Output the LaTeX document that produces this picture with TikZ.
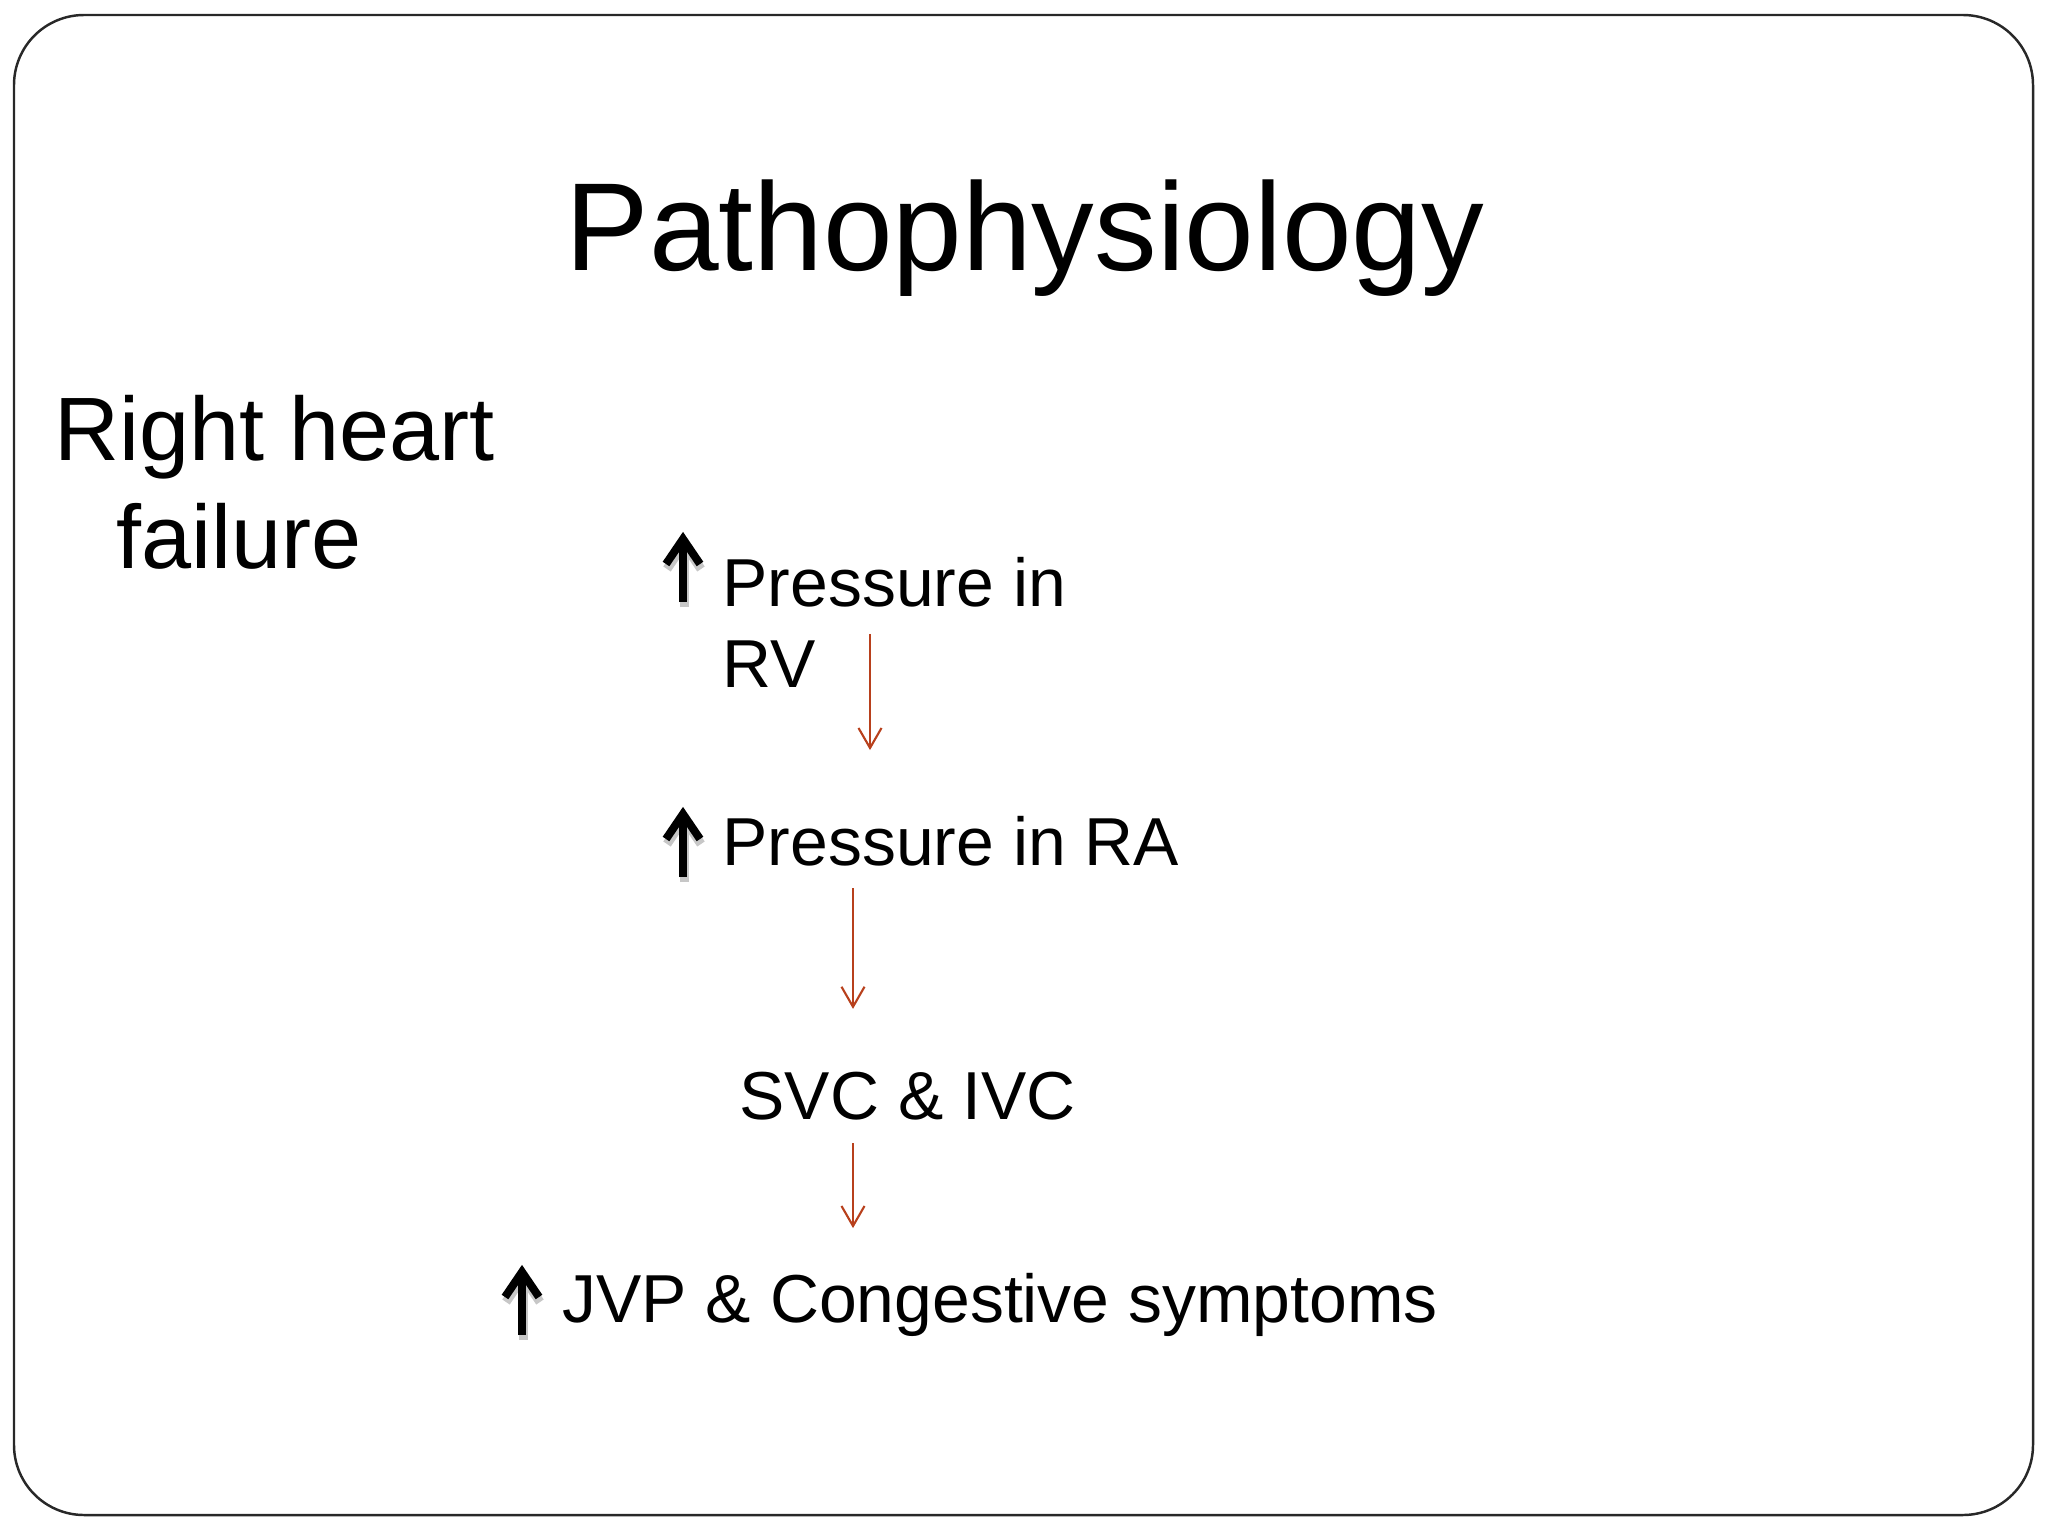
\documentclass[tikz,border=0pt]{standalone}
\usepackage{fontspec}
\setmainfont{Liberation Sans}
\usetikzlibrary{arrows.meta,calc}

\definecolor{flowred}{RGB}{184,64,28}
\definecolor{framegray}{RGB}{40,40,40}

\tikzset{
  txt/.style={anchor=base west, inner sep=0pt, align=left},
  body/.style={txt, font=\fontsize{19.3}{23}\selectfont},
  flow/.style={draw=flowred, line width=0.6pt, -{Straight Barb[length=0.2cm,width=0.23cm]}},
  rise/.pic={
    \begin{scope}[shift={(1,5)}, draw=black!22, line width=0.09cm]
      \draw (0,0) -- (0,-60);
      \draw[line join=miter] (-17,-38) -- (0,-63) -- (17,-38);
    \end{scope}
    \draw[line width=0.08cm] (0,0) -- (0,-60);
    \draw[line width=0.08cm, line join=miter] (-17,-38) -- (0,-63) -- (17,-38);
  }
}

\begin{document}
\begin{tikzpicture}[x=0.01cm, y=-0.01cm]
  \useasboundingbox (0,0) rectangle (2048,1536);

  % slide frame
  \draw[framegray, line width=0.7pt, rounded corners=0.7cm] (14,15) rectangle (2033,1515);

  % headings (base of a two-line node = last line)
  \node[txt, anchor=base, font=\fontsize{35.6}{42}\selectfont] (title) at (1025,270) {Pathophysiology};
  \node[txt, font=\fontsize{25.6}{30.7}\selectfont] (rhf) at (54,568) {Right heart\\\hspace*{0.62cm}failure};

  % chain of pressures
  \node[body] (rv) at (722,687) {Pressure in\\RV};
  \node[body] (ra) at (722,865) {Pressure in RA};
  \node[body] (veins) at (739,1119) {SVC \& IVC};
  \node[body] (jvp) at (562,1322) {JVP \& Congestive symptoms};

  % raised markers
  \pic at ($(rv.base west)+(-39,-85)$) {rise};
  \pic at ($(ra.base west)+(-39,12)$) {rise};
  \pic at ($(jvp.base west)+(-40,13)$) {rise};

  % arrows between steps
  \coordinate (colrv) at (870,0);
  \coordinate (colra) at (853,0);
  \draw[flow, shorten <=0.12cm, shorten >=0.65cm] (rv.center -| colrv) -- (ra.north -| colrv);
  \draw[flow, shorten <=0.22cm, shorten >=0.62cm] (ra.south -| colra) -- (veins.north -| colra);
  \draw[flow, shorten <=0.23cm, shorten >=0.44cm] (veins.south -| colra) -- (jvp.north -| colra);
\end{tikzpicture}
\end{document}
